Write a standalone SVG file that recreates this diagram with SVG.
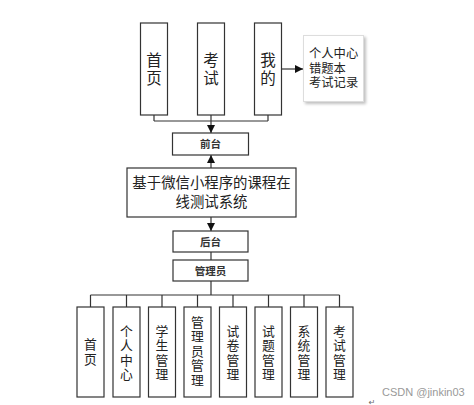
<svg xmlns="http://www.w3.org/2000/svg" width="474" height="405" viewBox="0 0 474 405">
<style>
.box{fill:#fff;stroke:#333;stroke-width:1.2}
.ln{fill:none;stroke:#333;stroke-width:1.2}
.t{font-family:"Liberation Sans","Noto Sans CJK SC",sans-serif;fill:#222;text-anchor:middle;dominant-baseline:central}
.big{font-size:15.5px}
.mid{font-size:14.4px}
.v{font-size:12.8px}
.sm{font-size:10.5px;font-weight:bold;fill:#333}
.note{font-family:"Liberation Sans","Noto Sans CJK SC",sans-serif;font-size:12.3px;fill:#222;dominant-baseline:central}
</style>
<defs>
<marker id="ah" viewBox="0 0 10 10" refX="10" refY="5" markerWidth="8" markerHeight="8" markerUnits="userSpaceOnUse" orient="auto">
<path d="M0,0 L10,5 L0,10 z" fill="#111"/>
</marker>
<filter id="sh" x="-20%" y="-20%" width="150%" height="150%">
<feGaussianBlur in="SourceAlpha" stdDeviation="1.5"/>
<feOffset dx="1.5" dy="1.5"/>
<feComponentTransfer><feFuncA type="linear" slope="0.25"/></feComponentTransfer>
<feMerge><feMergeNode/><feMergeNode in="SourceGraphic"/></feMerge>
</filter>
</defs>
<rect width="474" height="405" fill="#fff"/>

<g id="connectors">
<path class="ln" d="M154,115 V121 M268,115 V121 M154,121 H268"/>
<path class="ln" d="M211,115 V133" marker-end="url(#ah)"/>
<path class="ln" d="M282,69 H303" marker-end="url(#ah)"/>
<path class="ln" d="M211,168 V155" marker-end="url(#ah)"/>
<path class="ln" d="M211,217 V231" marker-end="url(#ah)"/>
<path class="ln" d="M211,252 V260"/>
<path class="ln" d="M211,281 V295 M90.5,295 H339.5 M90.5,295 V307 M126.5,295 V307 M162,295 V307 M197.5,295 V307 M233,295 V307 M268.5,295 V307 M304,295 V307 M339.5,295 V307"/>
</g>

<g id="n-shouye-top">
<rect class="box" x="140.5" y="23" width="27" height="92"/>
<text class="t big" x="154" y="60">首</text>
<text class="t big" x="154" y="78">页</text>
</g>
<g id="n-kaoshi-top">
<rect class="box" x="197.5" y="23" width="27" height="92"/>
<text class="t big" x="211" y="60">考</text>
<text class="t big" x="211" y="78">试</text>
</g>
<g id="n-wode">
<rect class="box" x="254.5" y="23" width="27" height="92"/>
<text class="t big" x="268" y="60">我</text>
<text class="t big" x="268" y="78">的</text>
</g>
<g id="n-note">
<rect x="303.5" y="35.5" width="60" height="66" fill="#fff" stroke="#ddd" stroke-width="1" filter="url(#sh)"/>
<text class="note" x="309" y="54">个人中心</text>
<text class="note" x="309" y="68.5">错题本</text>
<text class="note" x="309" y="83">考试记录</text>
</g>
<g id="n-qiantai">
<rect class="box" x="172.5" y="133" width="76" height="22"/>
<text class="t sm" x="210.5" y="144">前台</text>
</g>
<g id="n-main">
<rect class="box" x="127" y="168" width="169" height="49"/>
<text class="t mid" x="211.5" y="183">基于微信小程序的课程在</text>
<text class="t mid" x="211.5" y="202">线测试系统</text>
</g>
<g id="n-houtai">
<rect class="box" x="173" y="231" width="75" height="21"/>
<text class="t sm" x="210.5" y="241.5">后台</text>
</g>
<g id="n-admin">
<rect class="box" x="173" y="260" width="75" height="21"/>
<text class="t sm" x="210.5" y="270.5">管理员</text>
</g>

<g id="n-b1">
<rect class="box" x="77" y="307" width="27" height="90"/>
<text class="t v" x="90.5" y="344">首</text>
<text class="t v" x="90.5" y="359">页</text>
</g>
<g id="n-b2">
<rect class="box" x="113" y="307" width="27" height="90"/>
<text class="t v" x="126.5" y="331">个</text>
<text class="t v" x="126.5" y="345.5">人</text>
<text class="t v" x="126.5" y="360">中</text>
<text class="t v" x="126.5" y="374.5">心</text>
</g>
<g id="n-b3">
<rect class="box" x="148.5" y="307" width="27" height="90"/>
<text class="t v" x="162" y="331">学</text>
<text class="t v" x="162" y="345.5">生</text>
<text class="t v" x="162" y="360">管</text>
<text class="t v" x="162" y="374.5">理</text>
</g>
<g id="n-b4">
<rect class="box" x="184" y="307" width="27" height="90"/>
<text class="t v" x="197.5" y="322">管</text>
<text class="t v" x="197.5" y="336.5">理</text>
<text class="t v" x="197.5" y="351">员</text>
<text class="t v" x="197.5" y="365.5">管</text>
<text class="t v" x="197.5" y="380">理</text>
</g>
<g id="n-b5">
<rect class="box" x="219.5" y="307" width="27" height="90"/>
<text class="t v" x="233" y="331">试</text>
<text class="t v" x="233" y="345.5">卷</text>
<text class="t v" x="233" y="360">管</text>
<text class="t v" x="233" y="374.5">理</text>
</g>
<g id="n-b6">
<rect class="box" x="255" y="307" width="27" height="90"/>
<text class="t v" x="268.5" y="331">试</text>
<text class="t v" x="268.5" y="345.5">题</text>
<text class="t v" x="268.5" y="360">管</text>
<text class="t v" x="268.5" y="374.5">理</text>
</g>
<g id="n-b7">
<rect class="box" x="290.5" y="307" width="27" height="90"/>
<text class="t v" x="304" y="331">系</text>
<text class="t v" x="304" y="345.5">统</text>
<text class="t v" x="304" y="360">管</text>
<text class="t v" x="304" y="374.5">理</text>
</g>
<g id="n-b8">
<rect class="box" x="326" y="307" width="27" height="90"/>
<text class="t v" x="339.5" y="331">考</text>
<text class="t v" x="339.5" y="345.5">试</text>
<text class="t v" x="339.5" y="360">管</text>
<text class="t v" x="339.5" y="374.5">理</text>
</g>

<text x="372" y="402" font-family="DejaVu Sans, sans-serif" font-size="8" fill="#666" text-anchor="middle" dominant-baseline="central">↵</text>
<text x="382" y="392" font-family="Liberation Sans, Arial, sans-serif" font-size="11" fill="#999" dominant-baseline="central">CSDN @jinkin03</text>
</svg>
